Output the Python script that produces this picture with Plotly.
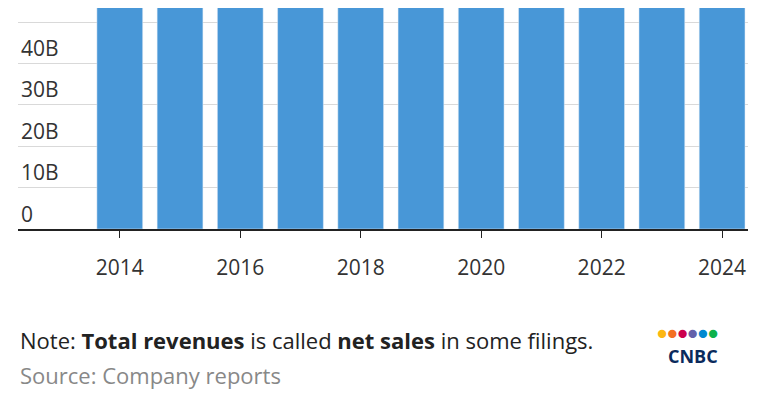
import plotly.graph_objects as go

years = list(range(2014, 2025))
revenues = [83.1, 76.3, 65.3, 65.1, 66.8, 67.7, 71.0, 76.1, 80.2, 82.0, 84.0]
tick_vals = [0, 10, 20, 30, 40, 50]
tick_text = ["0", "10B", "20B", "30B", "40B", "50B"]
x_ticks = [2014, 2016, 2018, 2020, 2022, 2024]

fig = go.Figure(go.Bar(x=years, y=revenues, marker_color="#4897d7", width=0.76))
font = "Open Sans, Lato, sans-serif"
fig.update_layout(
    width=760, height=394, margin=dict(l=10, r=20, t=0, b=173, autoexpand=False),
    plot_bgcolor="white", paper_bgcolor="white", showlegend=False,
    font=dict(family=font, size=20, color="#333333"),
    xaxis=dict(range=[2012.31, 2024.43], tickvals=x_ticks, ticks="outside", ticklen=7,
               tickcolor="#222", showline=True, linecolor="#222", linewidth=2,
               showgrid=False, zeroline=False, tickfont=dict(size=21, color="#333"),
               ticklabelstandoff=12, automargin=False),
    yaxis=dict(range=[0, 53.4], tickvals=tick_vals, ticktext=tick_text,
               ticklabelposition="inside top", showgrid=True, gridcolor="#d9d9d9",
               gridwidth=1, zeroline=False, tickfont=dict(size=21, color="#333"),
               automargin=False),
)
fig.add_annotation(x=0, y=-0.50, xref="paper", yref="paper", xanchor="left", yanchor="middle",
                   showarrow=False, font=dict(size=22, color="#222"),
                   text="Note: <b>Total revenues</b> is called <b>net sales</b> in some filings.")
fig.add_annotation(x=0, y=-0.66, xref="paper", yref="paper", xanchor="left", yanchor="middle",
                   showarrow=False, font=dict(size=22, color="#888"),
                   text="Source: Company reports")
colors = ["#fcb711", "#f37021", "#cc004c", "#6460aa", "#0089d0", "#0db14b"]
dots = "".join(f'<span style="color:{c}">●</span>' for c in colors)
fig.add_annotation(x=0.962, y=-0.53, xref="paper", yref="paper", showarrow=False,
                   text=dots, font=dict(size=17))
fig.add_annotation(x=0.962, y=-0.64, xref="paper", yref="paper", showarrow=False,
                   text="<b>CNBC</b>", font=dict(size=18, color="#0a2a5c"))
fig.write_html("out.html")
